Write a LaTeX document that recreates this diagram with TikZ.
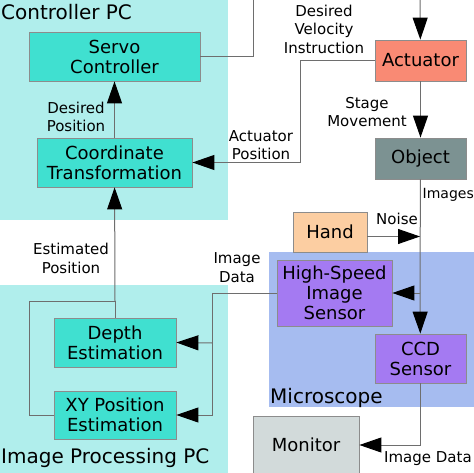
\documentclass[tikz,border=0pt]{standalone}
\usepackage{fontspec}
\setmainfont{DejaVu Sans}
\usetikzlibrary{arrows.meta,positioning}
\definecolor{pcback}{RGB}{176,238,236}
\definecolor{pcbox}{RGB}{64,224,208}
\definecolor{scopeback}{RGB}{166,188,240}
\definecolor{scopebox}{RGB}{164,122,242}
\definecolor{actfill}{RGB}{249,138,116}
\definecolor{objfill}{RGB}{124,146,146}
\definecolor{handfill}{RGB}{252,206,162}
\definecolor{monfill}{RGB}{210,218,218}
\definecolor{wirecol}{RGB}{110,110,110}

\begin{document}
\begin{tikzpicture}[x=1pt,y=-1pt]
\tikzstyle{block}=[rectangle, draw=black!45, line width=0.8pt, align=center, inner sep=0pt, font=\fontsize{18}{20}\selectfont]
\tikzstyle{connect}=[-{Triangle[length=22pt,width=15pt,color=black]}, draw=wirecol, line width=1pt]
\tikzstyle{wire}=[draw=wirecol, line width=1pt]
\tikzstyle{lbl}=[align=center, inner sep=0pt, font=\fontsize{15}{18.5}\selectfont]
\tikzstyle{title}=[inner sep=0pt, font=\fontsize{20}{24}\selectfont]
\clip (0,0) rectangle (474,473);
\fill[white] (0,0) rectangle (474,473);

% regions
\fill[pcback] (0,0) rectangle (228,220);
\fill[pcback] (0,285) rectangle (228,473);
\fill[scopeback] (269,252) rectangle (474,407);
\node[title, anchor=base west] (ctrlpc) at (1,20) {Controller PC};
\node[title, anchor=base west] (imgpc) at (1,463) {Image Processing PC};
\node[title, anchor=base west] (scope) at (270,403) {Microscope};

% blocks
\node[block, fill=pcbox, minimum width=171, minimum height=49] (servo) at (114.5,56.5) {Servo\\Controller};
\node[block, fill=pcbox, minimum width=155, minimum height=49] (coord) at (114.5,162.5) {Coordinate\\Transformation};
\node[block, fill=actfill, minimum width=91, minimum height=41] (act) at (420.5,60.5) {Actuator};
\node[block, fill=objfill, minimum width=91, minimum height=41] (obj) at (420.5,158.5) {Object};
\node[block, fill=handfill, minimum width=74, minimum height=40] (hand) at (330,232) {Hand};
\node[block, fill=scopebox, minimum width=115, minimum height=66] (hsis) at (334.5,293) {High-Speed\\Image\\Sensor};
\node[block, fill=scopebox, minimum width=91, minimum height=49] (ccd) at (420.5,358.5) {CCD\\Sensor};
\node[block, fill=monfill, minimum width=106, minimum height=58] (mon) at (306,445) {Monitor};
\node[block, fill=pcbox, minimum width=122, minimum height=49] (depth) at (115,342.5) {Depth\\Estimation};
\node[block, fill=pcbox, minimum width=122, minimum height=48] (xy) at (115,415) {XY Position\\Estimation};

% helper points
\coordinate (servoout) at (253,-5);
\coordinate (actin) at (420,-5);
\coordinate (imgsplit) at (420,293);
\coordinate (noisein) at (420,236.5);
\coordinate (datasplit) at (212,343);
\coordinate (estjoin) at (115,301);

% connectors
\draw[connect] (coord) -- (servo);
\draw[wire] (servo.east) -- (253,56.5) -- (servoout);
\draw[connect] (actin) -- (act);
\draw[connect] (act.west) -- (300,60.5) |- (coord.east);
\draw[connect] (act) -- (obj);
\draw[wire] (obj) -- (imgsplit);
\draw[connect] (imgsplit) -- (hsis.east);
\draw[connect] (imgsplit) -- (ccd);
\draw[connect] (hand.east |- noisein) -- (noisein);
\draw[connect] (ccd) |- (mon.east);
\draw[wire] (hsis.west) -| (datasplit);
\draw[connect] (datasplit) |- (xy.east);
\draw[connect] (datasplit) -- (depth.east);
\draw[wire] (xy.west) -- (29,415) |- (estjoin);
\draw[wire] (depth) -- (estjoin);
\draw[connect] (estjoin) -- (coord);

% labels
\node[lbl] (despos) at (76,117) {Desired\\Position};
\node[lbl] (desvel) at (324,29) {Desired\\Velocity\\Instruction};
\node[lbl] (actpos) at (261,145) {Actuator\\Position};
\node[lbl] (stage) at (367,112) {Stage\\Movement};
\node[lbl] (estpos) at (71,258.5) {Estimated\\Position};
\node[lbl] (imgdata) at (237,267.5) {Image\\Data};
\node[lbl, anchor=base] (noise) at (397,225) {Noise};
\node[lbl, anchor=base west, font=\fontsize{14}{17}\selectfont] (images) at (422.5,199) {Images};
\node[lbl, anchor=base west] (mondata) at (384,462) {Image Data};
\end{tikzpicture}
\end{document}
